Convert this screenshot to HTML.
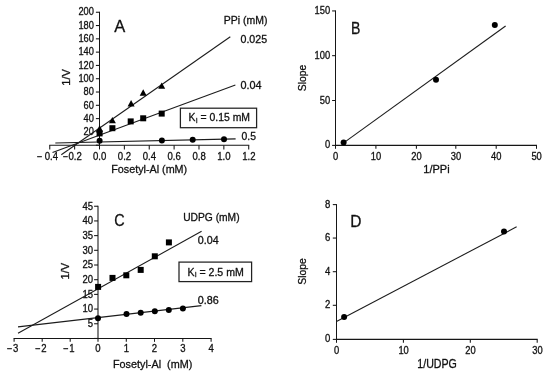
<!DOCTYPE html>
<html lang="en">
<head>
<meta charset="utf-8">
<title>Figure</title>
<style>
html,body{margin:0;padding:0;background:#fff;}
body{width:550px;height:375px;overflow:hidden;}
svg{display:block;font-family:"Liberation Sans", Arial, sans-serif;}
text{stroke:#111111;stroke-width:0.3px;stroke-linejoin:round;}
</style>
</head>
<body>
<svg width="550" height="375" viewBox="0 0 550 375">
<rect x="0" y="0" width="550" height="375" fill="#ffffff"/>
<line x1="99.50" y1="11.75" x2="99.50" y2="145.70" stroke="#161616" stroke-width="1.06"/>
<line x1="49.26" y1="145.20" x2="249.22" y2="145.20" stroke="#161616" stroke-width="1.06"/>
<line x1="49.76" y1="145.20" x2="49.76" y2="149.40" stroke="#161616" stroke-width="1.06"/>
<line x1="74.63" y1="145.20" x2="74.63" y2="149.40" stroke="#161616" stroke-width="1.06"/>
<line x1="99.50" y1="145.20" x2="99.50" y2="149.40" stroke="#161616" stroke-width="1.06"/>
<line x1="124.37" y1="145.20" x2="124.37" y2="149.40" stroke="#161616" stroke-width="1.06"/>
<line x1="149.24" y1="145.20" x2="149.24" y2="149.40" stroke="#161616" stroke-width="1.06"/>
<line x1="174.11" y1="145.20" x2="174.11" y2="149.40" stroke="#161616" stroke-width="1.06"/>
<line x1="198.98" y1="145.20" x2="198.98" y2="149.40" stroke="#161616" stroke-width="1.06"/>
<line x1="223.85" y1="145.20" x2="223.85" y2="149.40" stroke="#161616" stroke-width="1.06"/>
<line x1="248.72" y1="145.20" x2="248.72" y2="149.40" stroke="#161616" stroke-width="1.06"/>
<line x1="95.90" y1="145.20" x2="99.50" y2="145.20" stroke="#161616" stroke-width="1.06"/>
<line x1="95.90" y1="131.91" x2="99.50" y2="131.91" stroke="#161616" stroke-width="1.06"/>
<line x1="95.90" y1="118.61" x2="99.50" y2="118.61" stroke="#161616" stroke-width="1.06"/>
<line x1="95.90" y1="105.31" x2="99.50" y2="105.31" stroke="#161616" stroke-width="1.06"/>
<line x1="95.90" y1="92.02" x2="99.50" y2="92.02" stroke="#161616" stroke-width="1.06"/>
<line x1="95.90" y1="78.72" x2="99.50" y2="78.72" stroke="#161616" stroke-width="1.06"/>
<line x1="95.90" y1="65.43" x2="99.50" y2="65.43" stroke="#161616" stroke-width="1.06"/>
<line x1="95.90" y1="52.13" x2="99.50" y2="52.13" stroke="#161616" stroke-width="1.06"/>
<line x1="95.90" y1="38.84" x2="99.50" y2="38.84" stroke="#161616" stroke-width="1.06"/>
<line x1="95.90" y1="25.55" x2="99.50" y2="25.55" stroke="#161616" stroke-width="1.06"/>
<line x1="95.90" y1="12.25" x2="99.50" y2="12.25" stroke="#161616" stroke-width="1.06"/>
<text x="83.60" y="135.10" font-size="10.0" textLength="10.30" lengthAdjust="spacingAndGlyphs" fill="#111111">20</text>
<text x="83.60" y="121.81" font-size="10.0" textLength="10.30" lengthAdjust="spacingAndGlyphs" fill="#111111">40</text>
<text x="83.60" y="108.52" font-size="10.0" textLength="10.30" lengthAdjust="spacingAndGlyphs" fill="#111111">60</text>
<text x="83.60" y="95.22" font-size="10.0" textLength="10.30" lengthAdjust="spacingAndGlyphs" fill="#111111">80</text>
<text x="78.45" y="81.92" font-size="10.0" textLength="15.45" lengthAdjust="spacingAndGlyphs" fill="#111111">100</text>
<text x="78.45" y="68.63" font-size="10.0" textLength="15.45" lengthAdjust="spacingAndGlyphs" fill="#111111">120</text>
<text x="78.45" y="55.33" font-size="10.0" textLength="15.45" lengthAdjust="spacingAndGlyphs" fill="#111111">140</text>
<text x="78.45" y="42.04" font-size="10.0" textLength="15.45" lengthAdjust="spacingAndGlyphs" fill="#111111">160</text>
<text x="78.45" y="28.75" font-size="10.0" textLength="15.45" lengthAdjust="spacingAndGlyphs" fill="#111111">180</text>
<text x="78.45" y="15.45" font-size="10.0" textLength="15.45" lengthAdjust="spacingAndGlyphs" fill="#111111">200</text>
<text x="92.95" y="159.60" font-size="10.0" textLength="13.30" lengthAdjust="spacingAndGlyphs" fill="#111111">0.0</text>
<text x="117.82" y="159.60" font-size="10.0" textLength="13.30" lengthAdjust="spacingAndGlyphs" fill="#111111">0.2</text>
<text x="142.69" y="159.60" font-size="10.0" textLength="13.30" lengthAdjust="spacingAndGlyphs" fill="#111111">0.4</text>
<text x="167.56" y="159.60" font-size="10.0" textLength="13.30" lengthAdjust="spacingAndGlyphs" fill="#111111">0.6</text>
<text x="192.43" y="159.60" font-size="10.0" textLength="13.30" lengthAdjust="spacingAndGlyphs" fill="#111111">0.8</text>
<text x="217.30" y="159.60" font-size="10.0" textLength="13.30" lengthAdjust="spacingAndGlyphs" fill="#111111">1.0</text>
<text x="242.17" y="159.60" font-size="10.0" textLength="13.30" lengthAdjust="spacingAndGlyphs" fill="#111111">1.2</text>
<text x="44.80" y="159.60" font-size="10.0" textLength="13.30" lengthAdjust="spacingAndGlyphs" fill="#111111">0.4</text>
<text x="37.00" y="159.60" font-size="10.0" textLength="5.40" lengthAdjust="spacingAndGlyphs" fill="#111111">−</text>
<text x="68.50" y="159.60" font-size="10.0" textLength="13.30" lengthAdjust="spacingAndGlyphs" fill="#111111">0.2</text>
<text x="63.10" y="159.60" font-size="10.0" textLength="5.20" lengthAdjust="spacingAndGlyphs" fill="#111111">−</text>
<text x="111.20" y="173.40" font-size="11.5" textLength="76.00" lengthAdjust="spacingAndGlyphs" fill="#111111">Fosetyl-Al (mM)</text>
<text x="70.00" y="85.70" font-size="11.5" textLength="16.60" lengthAdjust="spacingAndGlyphs" transform="rotate(-90 70.00 85.70)" fill="#111111">1/V</text>
<text x="114.20" y="32.00" font-size="17.3" textLength="11.00" lengthAdjust="spacingAndGlyphs" fill="#111111">A</text>
<line x1="61.30" y1="154.70" x2="230.30" y2="36.80" stroke="#1c1c1c" stroke-width="1.08"/>
<line x1="52.50" y1="152.50" x2="235.40" y2="85.00" stroke="#1c1c1c" stroke-width="1.08"/>
<line x1="55.30" y1="143.00" x2="235.60" y2="138.90" stroke="#1c1c1c" stroke-width="1.08"/>
<polygon points="99.60,125.30 103.10,131.70 96.10,131.70" fill="#000"/>
<polygon points="112.40,116.90 115.90,123.30 108.90,123.30" fill="#000"/>
<polygon points="131.10,100.10 134.60,106.50 127.60,106.50" fill="#000"/>
<polygon points="143.20,89.30 146.70,95.70 139.70,95.70" fill="#000"/>
<polygon points="161.70,82.40 165.20,88.80 158.20,88.80" fill="#000"/>
<rect x="96.60" y="130.40" width="6.0" height="6.0" fill="#000"/>
<rect x="109.40" y="125.20" width="6.0" height="6.0" fill="#000"/>
<rect x="127.70" y="118.40" width="6.0" height="6.0" fill="#000"/>
<rect x="140.20" y="115.30" width="6.0" height="6.0" fill="#000"/>
<rect x="158.70" y="110.60" width="6.0" height="6.0" fill="#000"/>
<circle cx="99.60" cy="140.80" r="3.0" fill="#000"/>
<circle cx="161.90" cy="140.40" r="3.0" fill="#000"/>
<circle cx="192.70" cy="139.80" r="3.0" fill="#000"/>
<circle cx="224.00" cy="139.20" r="3.0" fill="#000"/>
<text x="223.80" y="24.20" font-size="10.6" textLength="43.60" lengthAdjust="spacingAndGlyphs" fill="#111111">PPi (mM)</text>
<text x="240.50" y="43.40" font-size="10.6" textLength="26.60" lengthAdjust="spacingAndGlyphs" fill="#111111">0.025</text>
<text x="240.40" y="89.00" font-size="10.6" textLength="21.10" lengthAdjust="spacingAndGlyphs" fill="#111111">0.04</text>
<text x="241.50" y="139.80" font-size="10.6" textLength="14.40" lengthAdjust="spacingAndGlyphs" fill="#111111">0.5</text>
<rect x="180.4" y="108.2" width="76.2" height="19.5" fill="#fff" stroke="#222" stroke-width="1.25"/>
<text x="188.6" y="121.4" font-size="10.3" textLength="61.4" lengthAdjust="spacingAndGlyphs" fill="#111111">K<tspan font-size="6.8" dy="1.8" dx="0.5">i</tspan><tspan dy="-1.8"> = 0.15 mM</tspan></text>
<line x1="335.50" y1="10.43" x2="335.50" y2="145.90" stroke="#161616" stroke-width="1.06"/>
<line x1="335.00" y1="145.40" x2="537.00" y2="145.40" stroke="#161616" stroke-width="1.06"/>
<line x1="335.50" y1="145.40" x2="335.50" y2="148.80" stroke="#161616" stroke-width="1.06"/>
<line x1="375.90" y1="145.40" x2="375.90" y2="148.80" stroke="#161616" stroke-width="1.06"/>
<line x1="416.40" y1="145.40" x2="416.40" y2="148.80" stroke="#161616" stroke-width="1.06"/>
<line x1="455.80" y1="145.40" x2="455.80" y2="148.80" stroke="#161616" stroke-width="1.06"/>
<line x1="496.20" y1="145.40" x2="496.20" y2="148.80" stroke="#161616" stroke-width="1.06"/>
<line x1="536.50" y1="145.40" x2="536.50" y2="148.80" stroke="#161616" stroke-width="1.06"/>
<line x1="332.10" y1="145.40" x2="335.50" y2="145.40" stroke="#161616" stroke-width="1.06"/>
<line x1="332.10" y1="100.50" x2="335.50" y2="100.50" stroke="#161616" stroke-width="1.06"/>
<line x1="332.10" y1="55.66" x2="335.50" y2="55.66" stroke="#161616" stroke-width="1.06"/>
<line x1="332.10" y1="10.93" x2="335.50" y2="10.93" stroke="#161616" stroke-width="1.06"/>
<text x="325.00" y="148.40" font-size="10.0" textLength="5.20" lengthAdjust="spacingAndGlyphs" fill="#111111">0</text>
<text x="319.80" y="103.50" font-size="10.0" textLength="10.40" lengthAdjust="spacingAndGlyphs" fill="#111111">50</text>
<text x="314.60" y="58.66" font-size="10.0" textLength="15.60" lengthAdjust="spacingAndGlyphs" fill="#111111">100</text>
<text x="314.60" y="13.93" font-size="10.0" textLength="15.60" lengthAdjust="spacingAndGlyphs" fill="#111111">150</text>
<text x="333.00" y="159.60" font-size="10.0" textLength="5.20" lengthAdjust="spacingAndGlyphs" fill="#111111">0</text>
<text x="370.80" y="159.60" font-size="10.0" textLength="10.40" lengthAdjust="spacingAndGlyphs" fill="#111111">10</text>
<text x="411.30" y="159.60" font-size="10.0" textLength="10.40" lengthAdjust="spacingAndGlyphs" fill="#111111">20</text>
<text x="450.70" y="159.60" font-size="10.0" textLength="10.40" lengthAdjust="spacingAndGlyphs" fill="#111111">30</text>
<text x="491.10" y="159.60" font-size="10.0" textLength="10.40" lengthAdjust="spacingAndGlyphs" fill="#111111">40</text>
<text x="531.40" y="159.60" font-size="10.0" textLength="10.40" lengthAdjust="spacingAndGlyphs" fill="#111111">50</text>
<text x="423.35" y="173.30" font-size="11.5" textLength="26.30" lengthAdjust="spacingAndGlyphs" fill="#111111">1/PPi</text>
<text x="305.70" y="91.25" font-size="11" textLength="26.50" lengthAdjust="spacingAndGlyphs" transform="rotate(-90 305.70 91.25)" fill="#111111">Slope</text>
<text x="351.00" y="33.80" font-size="17.3" textLength="9.40" lengthAdjust="spacingAndGlyphs" fill="#111111">B</text>
<line x1="343.60" y1="142.90" x2="505.60" y2="26.00" stroke="#1c1c1c" stroke-width="1.08"/>
<circle cx="343.60" cy="142.50" r="3.0" fill="#000"/>
<circle cx="436.00" cy="79.80" r="3.0" fill="#000"/>
<circle cx="494.80" cy="25.10" r="3.0" fill="#000"/>
<line x1="98.00" y1="205.74" x2="98.00" y2="338.95" stroke="#161616" stroke-width="1.06"/>
<line x1="13.60" y1="338.45" x2="211.60" y2="338.45" stroke="#161616" stroke-width="1.06"/>
<line x1="14.10" y1="338.45" x2="14.10" y2="341.85" stroke="#161616" stroke-width="1.06"/>
<line x1="42.20" y1="338.45" x2="42.20" y2="341.85" stroke="#161616" stroke-width="1.06"/>
<line x1="70.20" y1="338.45" x2="70.20" y2="341.85" stroke="#161616" stroke-width="1.06"/>
<line x1="98.00" y1="338.45" x2="98.00" y2="341.85" stroke="#161616" stroke-width="1.06"/>
<line x1="126.30" y1="338.45" x2="126.30" y2="341.85" stroke="#161616" stroke-width="1.06"/>
<line x1="154.50" y1="338.45" x2="154.50" y2="341.85" stroke="#161616" stroke-width="1.06"/>
<line x1="182.80" y1="338.45" x2="182.80" y2="341.85" stroke="#161616" stroke-width="1.06"/>
<line x1="211.10" y1="338.45" x2="211.10" y2="341.85" stroke="#161616" stroke-width="1.06"/>
<line x1="94.10" y1="338.45" x2="98.00" y2="338.45" stroke="#161616" stroke-width="1.06"/>
<line x1="94.10" y1="323.76" x2="98.00" y2="323.76" stroke="#161616" stroke-width="1.06"/>
<line x1="94.10" y1="309.07" x2="98.00" y2="309.07" stroke="#161616" stroke-width="1.06"/>
<line x1="94.10" y1="294.38" x2="98.00" y2="294.38" stroke="#161616" stroke-width="1.06"/>
<line x1="94.10" y1="279.69" x2="98.00" y2="279.69" stroke="#161616" stroke-width="1.06"/>
<line x1="94.10" y1="265.00" x2="98.00" y2="265.00" stroke="#161616" stroke-width="1.06"/>
<line x1="94.10" y1="250.31" x2="98.00" y2="250.31" stroke="#161616" stroke-width="1.06"/>
<line x1="94.10" y1="235.62" x2="98.00" y2="235.62" stroke="#161616" stroke-width="1.06"/>
<line x1="94.10" y1="220.93" x2="98.00" y2="220.93" stroke="#161616" stroke-width="1.06"/>
<line x1="94.10" y1="206.24" x2="98.00" y2="206.24" stroke="#161616" stroke-width="1.06"/>
<text x="87.70" y="327.16" font-size="10.0" textLength="5.30" lengthAdjust="spacingAndGlyphs" fill="#111111">5</text>
<text x="82.40" y="312.47" font-size="10.0" textLength="10.60" lengthAdjust="spacingAndGlyphs" fill="#111111">10</text>
<text x="82.40" y="297.78" font-size="10.0" textLength="10.60" lengthAdjust="spacingAndGlyphs" fill="#111111">15</text>
<text x="82.40" y="283.09" font-size="10.0" textLength="10.60" lengthAdjust="spacingAndGlyphs" fill="#111111">20</text>
<text x="82.40" y="268.40" font-size="10.0" textLength="10.60" lengthAdjust="spacingAndGlyphs" fill="#111111">25</text>
<text x="82.40" y="253.71" font-size="10.0" textLength="10.60" lengthAdjust="spacingAndGlyphs" fill="#111111">30</text>
<text x="82.40" y="239.02" font-size="10.0" textLength="10.60" lengthAdjust="spacingAndGlyphs" fill="#111111">35</text>
<text x="82.40" y="224.33" font-size="10.0" textLength="10.60" lengthAdjust="spacingAndGlyphs" fill="#111111">40</text>
<text x="82.40" y="209.64" font-size="10.0" textLength="10.60" lengthAdjust="spacingAndGlyphs" fill="#111111">45</text>
<text x="95.35" y="352.20" font-size="10.0" textLength="5.30" lengthAdjust="spacingAndGlyphs" fill="#111111">0</text>
<text x="123.65" y="352.20" font-size="10.0" textLength="5.30" lengthAdjust="spacingAndGlyphs" fill="#111111">1</text>
<text x="151.85" y="352.20" font-size="10.0" textLength="5.30" lengthAdjust="spacingAndGlyphs" fill="#111111">2</text>
<text x="180.15" y="352.20" font-size="10.0" textLength="5.30" lengthAdjust="spacingAndGlyphs" fill="#111111">3</text>
<text x="208.45" y="352.20" font-size="10.0" textLength="5.30" lengthAdjust="spacingAndGlyphs" fill="#111111">4</text>
<text x="7.10" y="352.20" font-size="10.0" textLength="5.40" lengthAdjust="spacingAndGlyphs" fill="#111111">−</text>
<text x="13.10" y="352.20" font-size="10.0" textLength="5.30" lengthAdjust="spacingAndGlyphs" fill="#111111">3</text>
<text x="35.20" y="352.20" font-size="10.0" textLength="5.40" lengthAdjust="spacingAndGlyphs" fill="#111111">−</text>
<text x="41.20" y="352.20" font-size="10.0" textLength="5.30" lengthAdjust="spacingAndGlyphs" fill="#111111">2</text>
<text x="63.20" y="352.20" font-size="10.0" textLength="5.40" lengthAdjust="spacingAndGlyphs" fill="#111111">−</text>
<text x="69.20" y="352.20" font-size="10.0" textLength="5.30" lengthAdjust="spacingAndGlyphs" fill="#111111">1</text>
<text x="113.00" y="367.50" font-size="11.5" textLength="79.30" lengthAdjust="spacingAndGlyphs" fill="#111111" xml:space="preserve">Fosetyl-Al&#160;&#160;(mM)</text>
<text x="68.80" y="279.50" font-size="11.5" textLength="16.60" lengthAdjust="spacingAndGlyphs" transform="rotate(-90 68.80 279.50)" fill="#111111">1/V</text>
<text x="114.20" y="226.00" font-size="17.3" textLength="10.40" lengthAdjust="spacingAndGlyphs" fill="#111111">C</text>
<line x1="18.00" y1="333.30" x2="201.60" y2="231.30" stroke="#1c1c1c" stroke-width="1.08"/>
<line x1="18.00" y1="326.90" x2="201.40" y2="305.60" stroke="#1c1c1c" stroke-width="1.08"/>
<rect x="95.10" y="283.90" width="6.0" height="6.0" fill="#000"/>
<rect x="109.50" y="274.90" width="6.0" height="6.0" fill="#000"/>
<rect x="123.30" y="272.30" width="6.0" height="6.0" fill="#000"/>
<rect x="137.70" y="266.90" width="6.0" height="6.0" fill="#000"/>
<rect x="151.80" y="253.30" width="6.0" height="6.0" fill="#000"/>
<rect x="165.90" y="239.40" width="6.0" height="6.0" fill="#000"/>
<circle cx="98.00" cy="318.20" r="3.0" fill="#000"/>
<circle cx="126.50" cy="313.90" r="3.0" fill="#000"/>
<circle cx="140.70" cy="312.80" r="3.0" fill="#000"/>
<circle cx="154.80" cy="311.30" r="3.0" fill="#000"/>
<circle cx="168.80" cy="309.90" r="3.0" fill="#000"/>
<circle cx="182.90" cy="308.50" r="3.0" fill="#000"/>
<text x="183.20" y="221.00" font-size="10.6" textLength="56.40" lengthAdjust="spacingAndGlyphs" fill="#111111">UDPG (mM)</text>
<text x="197.80" y="244.20" font-size="10.6" textLength="20.80" lengthAdjust="spacingAndGlyphs" fill="#111111">0.04</text>
<text x="197.80" y="303.60" font-size="10.6" textLength="21.00" lengthAdjust="spacingAndGlyphs" fill="#111111">0.86</text>
<rect x="179.0" y="262.1" width="72.6" height="19.5" fill="#fff" stroke="#222" stroke-width="1.25"/>
<text x="187.4" y="275.5" font-size="10.5" textLength="56.4" lengthAdjust="spacingAndGlyphs" fill="#111111">K<tspan font-size="6.8" dy="1.8" dx="0.5">i</tspan><tspan dy="-1.8"> = 2.5 mM</tspan></text>
<line x1="336.50" y1="204.10" x2="336.50" y2="339.90" stroke="#161616" stroke-width="1.06"/>
<line x1="336.00" y1="339.40" x2="537.70" y2="339.40" stroke="#161616" stroke-width="1.06"/>
<line x1="336.50" y1="339.40" x2="336.50" y2="342.80" stroke="#161616" stroke-width="1.06"/>
<line x1="403.40" y1="339.40" x2="403.40" y2="342.80" stroke="#161616" stroke-width="1.06"/>
<line x1="470.30" y1="339.40" x2="470.30" y2="342.80" stroke="#161616" stroke-width="1.06"/>
<line x1="537.20" y1="339.40" x2="537.20" y2="342.80" stroke="#161616" stroke-width="1.06"/>
<line x1="332.80" y1="339.40" x2="336.50" y2="339.40" stroke="#161616" stroke-width="1.06"/>
<line x1="332.80" y1="305.30" x2="336.50" y2="305.30" stroke="#161616" stroke-width="1.06"/>
<line x1="332.80" y1="271.70" x2="336.50" y2="271.70" stroke="#161616" stroke-width="1.06"/>
<line x1="332.80" y1="238.05" x2="336.50" y2="238.05" stroke="#161616" stroke-width="1.06"/>
<line x1="332.80" y1="204.60" x2="336.50" y2="204.60" stroke="#161616" stroke-width="1.06"/>
<text x="325.10" y="342.40" font-size="10.0" textLength="5.30" lengthAdjust="spacingAndGlyphs" fill="#111111">0</text>
<text x="325.10" y="308.30" font-size="10.0" textLength="5.30" lengthAdjust="spacingAndGlyphs" fill="#111111">2</text>
<text x="325.10" y="274.70" font-size="10.0" textLength="5.30" lengthAdjust="spacingAndGlyphs" fill="#111111">4</text>
<text x="325.10" y="241.05" font-size="10.0" textLength="5.30" lengthAdjust="spacingAndGlyphs" fill="#111111">6</text>
<text x="325.10" y="207.60" font-size="10.0" textLength="5.30" lengthAdjust="spacingAndGlyphs" fill="#111111">8</text>
<text x="334.10" y="353.50" font-size="10.0" textLength="5.20" lengthAdjust="spacingAndGlyphs" fill="#111111">0</text>
<text x="398.40" y="353.50" font-size="10.0" textLength="10.40" lengthAdjust="spacingAndGlyphs" fill="#111111">10</text>
<text x="465.30" y="353.50" font-size="10.0" textLength="10.40" lengthAdjust="spacingAndGlyphs" fill="#111111">20</text>
<text x="532.20" y="353.50" font-size="10.0" textLength="10.40" lengthAdjust="spacingAndGlyphs" fill="#111111">30</text>
<text x="417.30" y="367.80" font-size="12" textLength="39.60" lengthAdjust="spacingAndGlyphs" fill="#111111">1/UDPG</text>
<text x="305.90" y="284.75" font-size="11" textLength="26.50" lengthAdjust="spacingAndGlyphs" transform="rotate(-90 305.90 284.75)" fill="#111111">Slope</text>
<text x="350.20" y="227.00" font-size="17.3" textLength="11.20" lengthAdjust="spacingAndGlyphs" fill="#111111">D</text>
<line x1="336.50" y1="321.50" x2="516.60" y2="226.85" stroke="#1c1c1c" stroke-width="1.08"/>
<circle cx="344.10" cy="316.90" r="3.0" fill="#000"/>
<circle cx="504.00" cy="231.40" r="3.0" fill="#000"/>
</svg>
</body>
</html>
